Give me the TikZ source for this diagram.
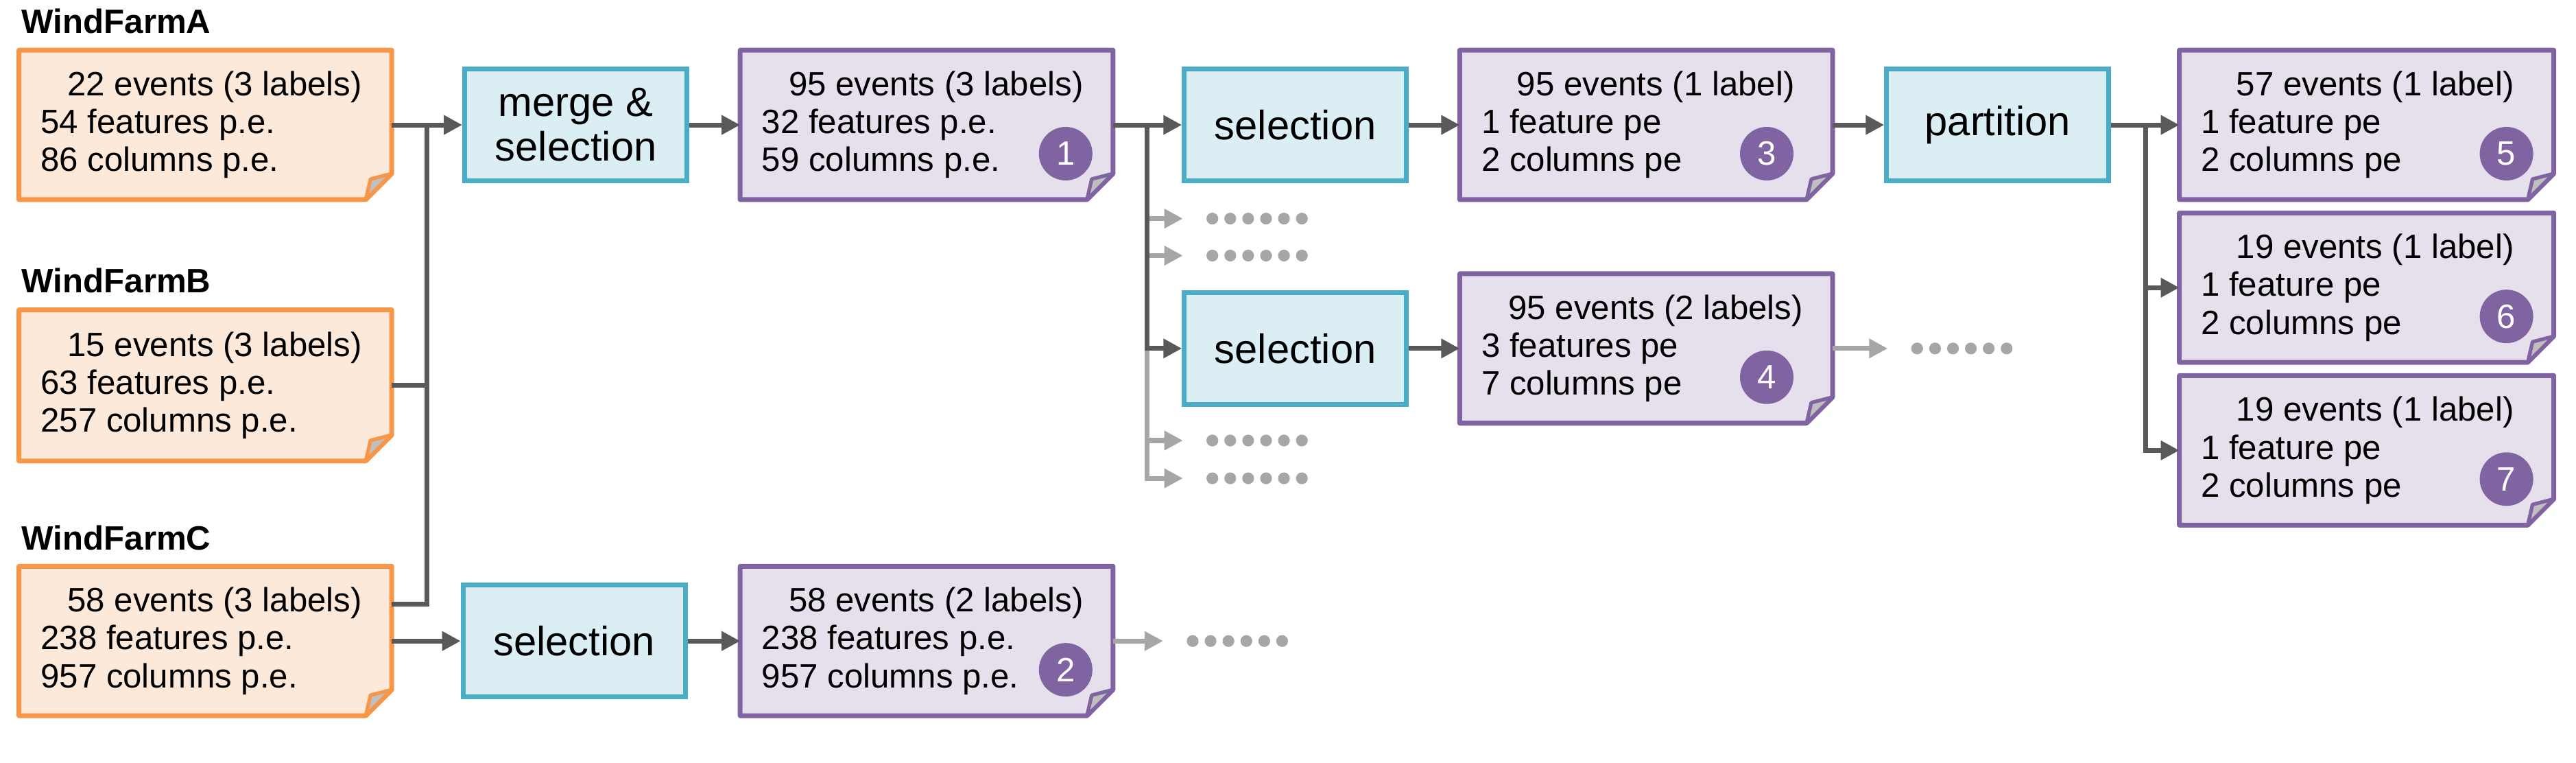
\documentclass[tikz,border=0pt]{standalone}
\usepackage{fontspec}
\setmainfont{Liberation Sans}
\usetikzlibrary{fit}
\usetikzlibrary{positioning}
\usetikzlibrary{backgrounds}
\usetikzlibrary{arrows.meta}

\definecolor{srcline}{HTML}{F79646}
\definecolor{srcfill}{HTML}{FDE9D9}
\definecolor{procline}{HTML}{4BACC6}
\definecolor{procfill}{HTML}{DBEEF4}
\definecolor{resline}{HTML}{8064A2}
\definecolor{resfill}{HTML}{E5E0EC}
\definecolor{darkarr}{HTML}{595959}
\definecolor{lightarr}{HTML}{A6A6A6}

% outline with dog-ear corner, behind the text
\newcommand{\foldbox}[3]{%
  \begin{pgfonlayer}{background}
    \draw[line width=2pt, draw=#3, fill=#2, line join=round]
      (#1.north west) -- (#1.north east) -- ([yshift=0.38cm]#1.south east)
      -- ([xshift=-0.38cm]#1.south east) -- (#1.south west) -- cycle;
    \draw[line width=1.5pt, draw=#3, fill=black!25, line join=round]
      ([yshift=0.38cm]#1.south east) -- ([xshift=-0.31cm,yshift=0.3cm]#1.south east)
      -- ([xshift=-0.38cm]#1.south east) -- cycle;
  \end{pgfonlayer}
}
\newcommand{\evline}[1]{\makebox[5.08cm][c]{#1}}
% six grey dots after an open arrow
\newcommand{\dotrow}[1]{%
  \foreach \k in {0,...,5} {
    \fill[lightarr] ([xshift=\k*0.261cm+0.43cm]#1) circle[radius=0.086cm];
  }
}

\begin{document}
\begin{tikzpicture}[
  x=0.023954cm, y=-0.023954cm,
  databox/.style={inner sep=0pt, outer sep=1pt},
  procbox/.style={draw=procline, fill=procfill, line width=2pt, inner sep=0pt,
    minimum width=3.24cm, minimum height=1.63cm,
    align=center, font=\fontsize{17}{18.5}\selectfont},
  datatext/.style={inner sep=0pt, align=left, font=\fontsize{14}{15.7}\selectfont},
  farm/.style={inner sep=0pt, anchor=base west, font=\bfseries\fontsize{14}{16}\selectfont},
  badge/.style={circle, fill=resline, text=white, minimum size=0.78cm, inner sep=0pt,
    font=\fontsize{14}{16}\selectfont},
  arr/.style={draw=darkarr, line width=2pt, -{Triangle[length=0.27cm,width=0.27cm]}},
  link/.style={draw=darkarr, line width=2pt},
  garr/.style={draw=lightarr, line width=2pt, -{Triangle[length=0.27cm,width=0.27cm]}},
]
\useasboundingbox (0,0) rectangle (1568,464);

% wind farm sources
\node (lblA) [farm] at (13,20.4) {WindFarmA};
\node (lblB) [farm] at (13,178) {WindFarmB};
\node (lblC) [farm] at (13,334.7) {WindFarmC};

\node (srcA) [databox, fit={(13,32) (237,120)}] {};
\foldbox{srcA}{srcfill}{srcline}
\node (txA) [datatext, right=0.31cm of srcA.west]
  {\evline{22 events (3 labels)}\\54 features p.e.\\86 columns p.e.};

\node (srcB) [databox, fit={(13,190) (237,279)}] {};
\foldbox{srcB}{srcfill}{srcline}
\node (txB) [datatext, right=0.31cm of srcB.west]
  {\evline{15 events (3 labels)}\\63 features p.e.\\257 columns p.e.};

\node (srcC) [databox, fit={(13,346) (237,434)}] {};
\foldbox{srcC}{srcfill}{srcline}
\node (txC) [datatext, right=0.31cm of srcC.west]
  {\evline{58 events (3 labels)}\\238 features p.e.\\957 columns p.e.};

% processing steps
\node (merge) [procbox] at (350.5,76) {merge \&\\selection};
\node (sel1) [procbox] at (788.5,76) {selection};
\node (part) [procbox] at (1216,76) {partition};
\node (sel2) [procbox] at (788.5,212) {selection};
\node (sel3) [procbox] at (349.5,390) {selection};

% resulting data sets
\node (res1) [databox, fit={(452,32) (676,120)}] {};
\foldbox{res1}{resfill}{resline}
\node (tx1) [datatext, right=0.31cm of res1.west]
  {\evline{95 events (3 labels)}\\32 features p.e.\\59 columns p.e.};
\node (nr1) [badge] at ([xshift=-0.69cm,yshift=0.67cm]res1.south east) {1};

\node (res2) [databox, fit={(452,346) (676,434)}] {};
\foldbox{res2}{resfill}{resline}
\node (tx2) [datatext, right=0.31cm of res2.west]
  {\evline{58 events (2 labels)}\\238 features p.e.\\957 columns p.e.};
\node (nr2) [badge] at ([xshift=-0.69cm,yshift=0.67cm]res2.south east) {2};

\node (res3) [databox, fit={(890,32) (1114,120)}] {};
\foldbox{res3}{resfill}{resline}
\node (tx3) [datatext, right=0.31cm of res3.west]
  {\evline{95 events (1 label)}\\1 feature pe\\2 columns pe};
\node (nr3) [badge] at ([xshift=-0.96cm,yshift=0.67cm]res3.south east) {3};

\node (res4) [databox, fit={(890,168) (1114,256)}] {};
\foldbox{res4}{resfill}{resline}
\node (tx4) [datatext, right=0.31cm of res4.west]
  {\evline{95 events (2 labels)}\\3 features pe\\7 columns pe};
\node (nr4) [badge] at ([xshift=-0.96cm,yshift=0.67cm]res4.south east) {4};

\node (res5) [databox, fit={(1328,32) (1553,120)}] {};
\foldbox{res5}{resfill}{resline}
\node (tx5) [datatext, right=0.31cm of res5.west]
  {\evline{57 events (1 label)}\\1 feature pe\\2 columns pe};
\node (nr5) [badge] at ([xshift=-0.69cm,yshift=0.67cm]res5.south east) {5};

\node (res6) [databox, fit={(1328,131) (1553,219)}] {};
\foldbox{res6}{resfill}{resline}
\node (tx6) [datatext, right=0.31cm of res6.west]
  {\evline{19 events (1 label)}\\1 feature pe\\2 columns pe};
\node (nr6) [badge] at ([xshift=-0.69cm,yshift=0.67cm]res6.south east) {6};

\node (res7) [databox, fit={(1328,230) (1553,318)}] {};
\foldbox{res7}{resfill}{resline}
\node (tx7) [datatext, right=0.31cm of res7.west]
  {\evline{19 events (1 label)}\\1 feature pe\\2 columns pe};
\node (nr7) [badge] at ([xshift=-0.69cm,yshift=0.67cm]res7.south east) {7};

% junctions and open ends
\coordinate (jA) at (260,76);
\coordinate (jB) at (698,76);
\coordinate (jC) at (1306,76);
\coordinate (g1) at (720,133);
\coordinate (g2) at (720,155.5);
\coordinate (g3) at (720,268);
\coordinate (g4) at (720,291);
\coordinate (g5) at (1149,212);
\coordinate (g6) at (708,390);

% merging the farms
\draw[arr] (srcA) -- (merge);
\draw[link] (srcB) -- (srcB -| jA) -- (jA);
\draw[link] ([yshift=0.54cm]srcC.east) -| (jA);
\draw[arr] (srcC) -- (sel3);
\draw[arr] (merge) -- (res1);
\draw[arr] (sel3) -- (res2);

% branches not followed
\draw[garr] (jB |- g1) -- (g1);
\draw[garr] (jB |- g2) -- (g2);
\draw[garr] (jB |- sel2) |- (g3);
\draw[garr] (jB |- sel2) |- (g4);
\draw[garr] (res4) -- (g5);
\draw[garr] (res2) -- (g6);
\dotrow{g1}
\dotrow{g2}
\dotrow{g3}
\dotrow{g4}
\dotrow{g5}
\dotrow{g6}

% followed path
\draw[arr] (res1) -- (sel1);
\draw[arr] (jB) |- (sel2);
\draw[arr] (sel1) -- (res3);
\draw[arr] (sel2) -- (res4);
\draw[arr] (res3) -- (part);
\draw[arr] (part) -- (res5);
\draw[arr] (jC) |- (res6);
\draw[arr] (jC) |- (res7);

\end{tikzpicture}
\end{document}
